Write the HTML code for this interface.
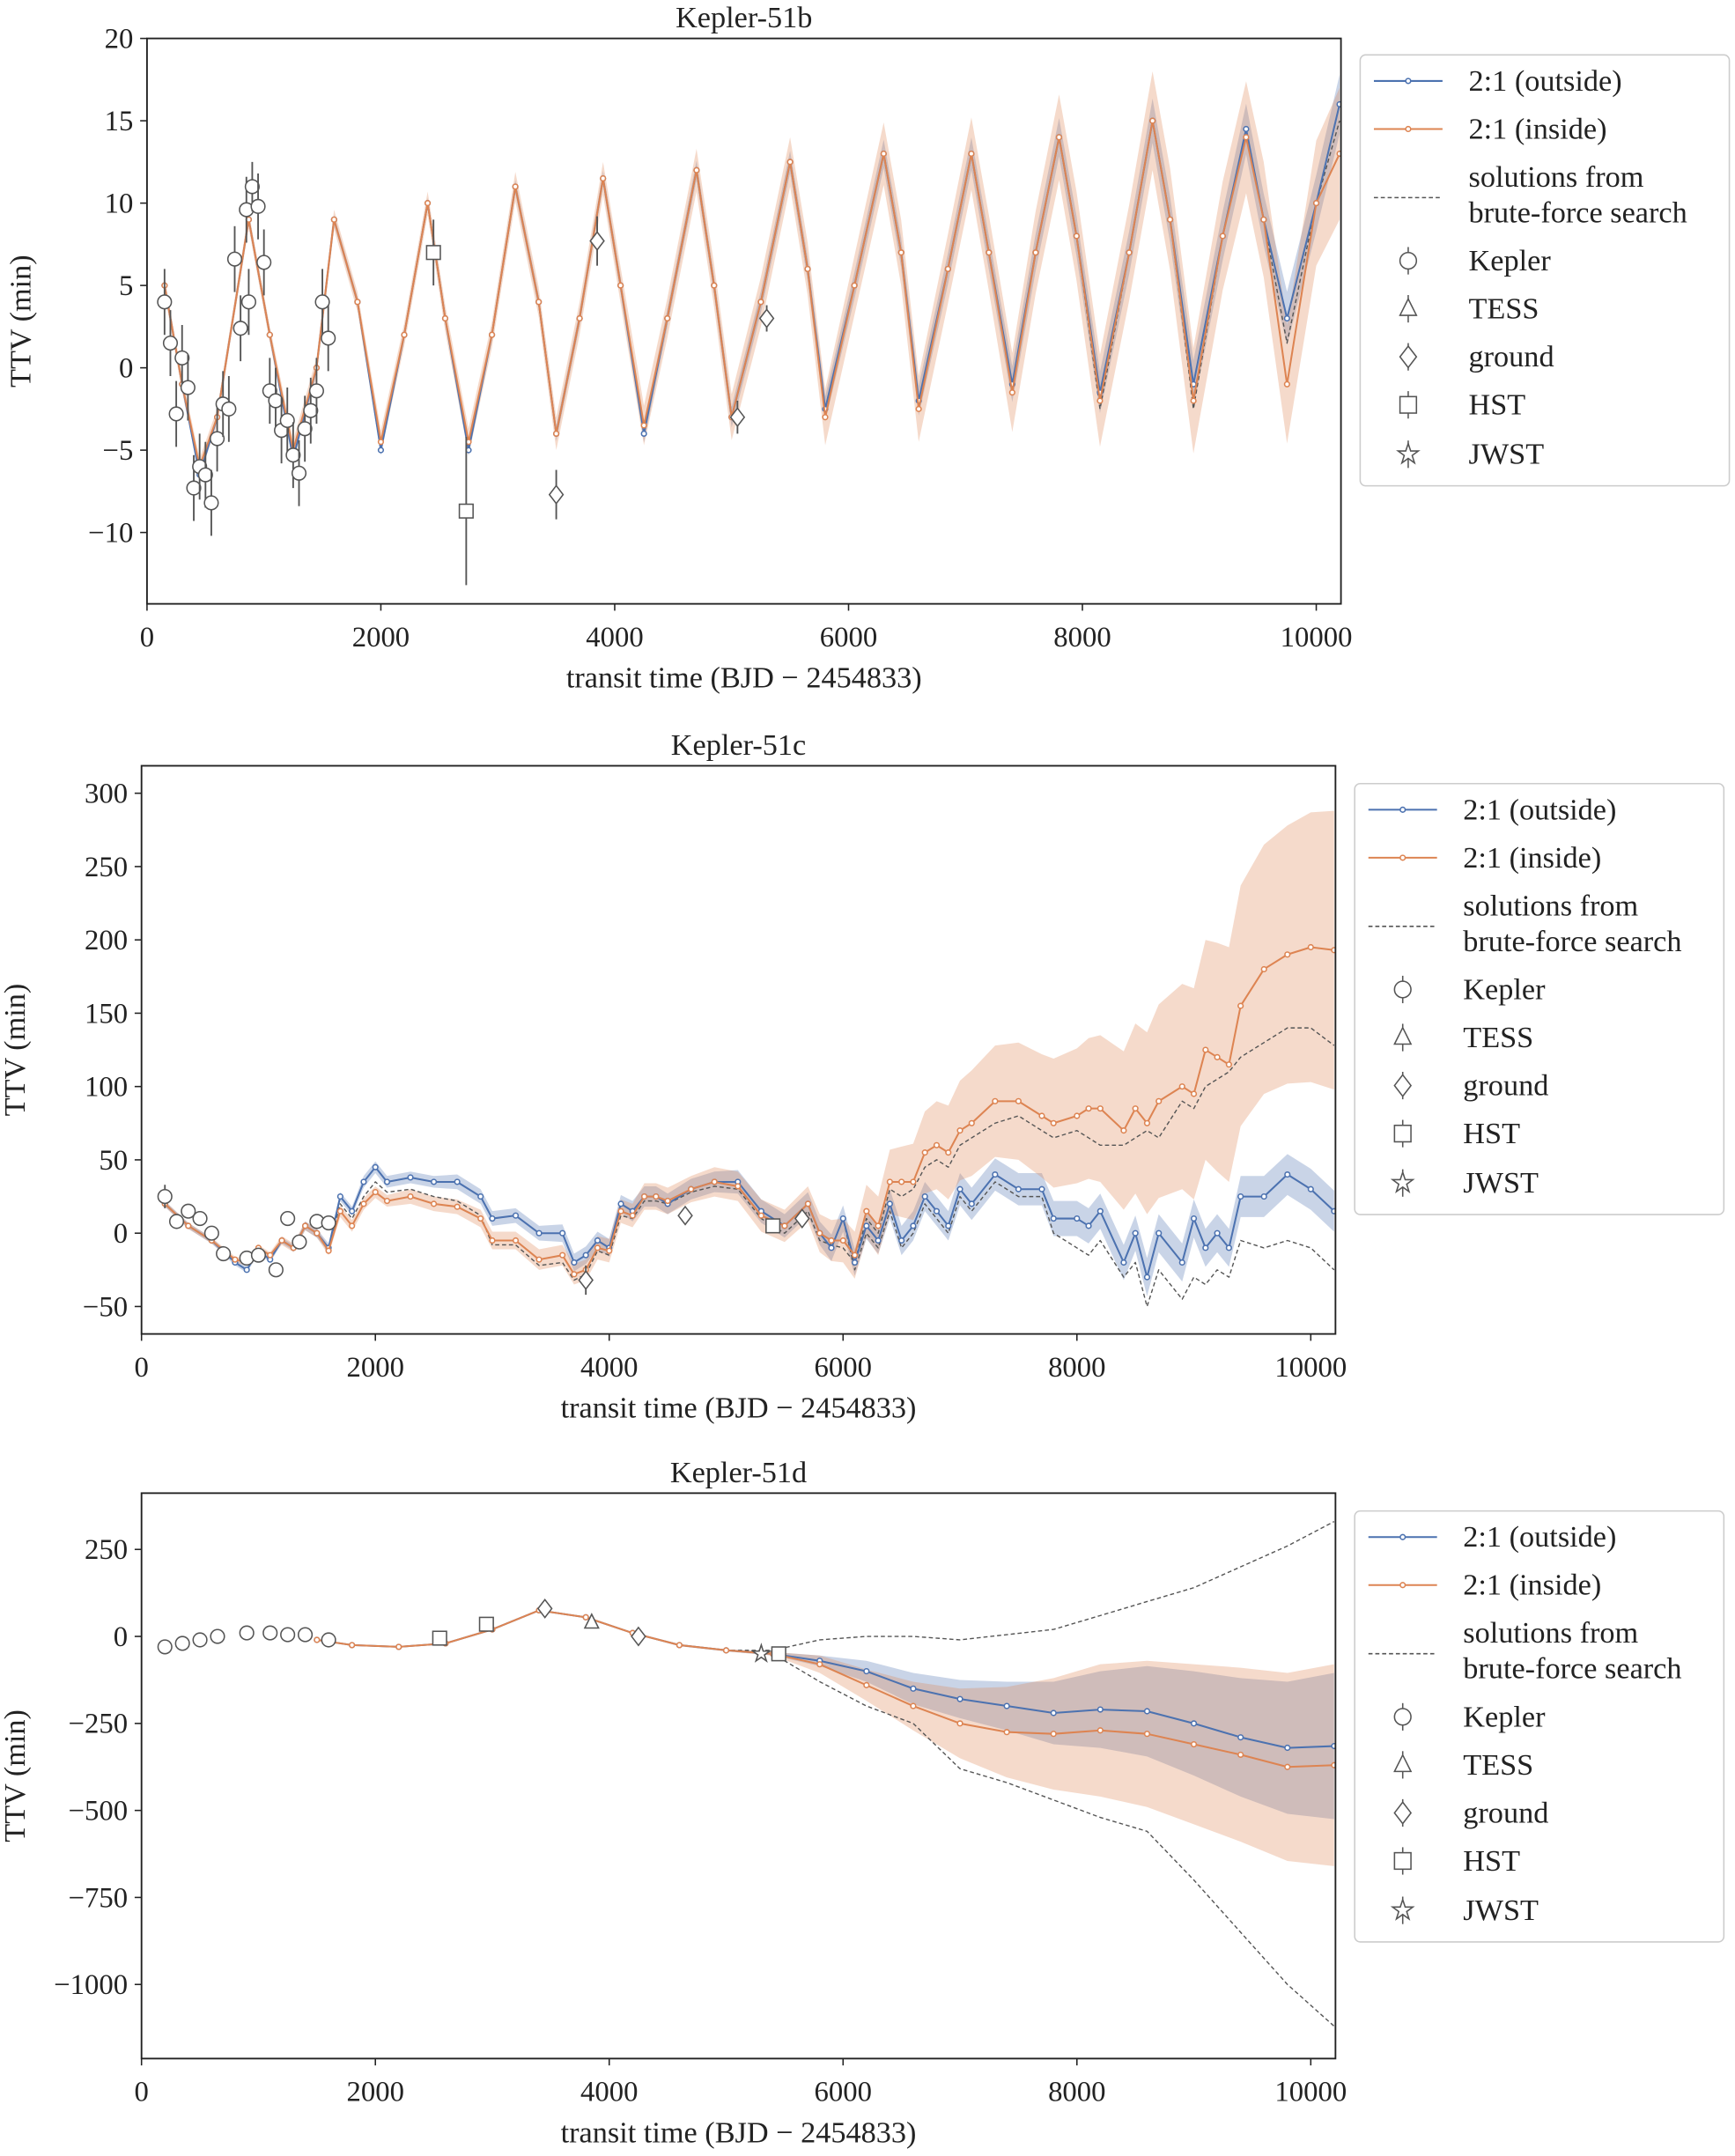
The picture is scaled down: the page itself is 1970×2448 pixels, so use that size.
<!DOCTYPE html>
<html><head><meta charset="utf-8"><style>
html,body{margin:0;padding:0;background:#fff}
svg{display:block;font-family:"Liberation Serif","DejaVu Serif",serif}
</style></head><body>
<svg id="fig" width="1970" height="2448" viewBox="0 0 1264 1571" xmlns="http://www.w3.org/2000/svg"></svg>
<script>
// ---------- Kepler-51b ----------
const bT=[150,300,450,600,870,1050,1250,1450,1600,1800,2000,2200,2400,2550,2750,2950,3150,3350,3500,3700,3900,4050,4250,4450,4700,4850,5000,5250,5500,5650,5800,6050,6300,6450,6600,6850,7050,7200,7400,7600,7800,7950,8150,8400,8600,8750,8950,9200,9400,9550,9750,10000,10200];
const bBlue=[5,-1,-6.5,-3,9,2,-5.5,0,9,4,-5,2,10,3,-5,2,11,4,-4,3,11.5,5,-4,3,12,5,-3,4,12.5,6,-2.5,5,13,7,-2,6,13,7,-1,7,14,8,-1.5,7,15,9,-1,8,14.5,9,3,10,16];
const bOrange=[5,-1,-6,-3,9,2,-5,0,9,4,-4.5,2,10,3,-4.5,2,11,4,-4,3,11.5,5,-3.5,3,12,5,-3,4,12.5,6,-3,5,13,7,-2.5,6,13,7,-1.5,7,14,8,-2,7,15,9,-2,8,14,9,-1,10,13];
const bDash=[5,-1,-6.5,-3,9,2,-5.5,0,9,4,-5,2,10,3,-5,2,11,4,-4,3,11.5,5,-4,3,12,5,-3,4,12.5,6,-3,5,13,7,-2.5,6,13,7,-1.5,7,14,8,-2.5,7,15,9,-2.5,8,14.5,9,1.5,10,15];
const bBandO=[0.5,0.5,0.5,0.5,0.5,0.5,0.6,0.6,0.6,0.6,0.7,0.7,0.7,0.8,0.8,0.8,0.9,0.9,1,1,1,1.1,1.2,1.2,1.3,1.3,1.4,1.5,1.5,1.6,1.7,1.8,1.9,2,2,2.1,2.2,2.3,2.4,2.5,2.6,2.7,2.8,2.9,3,3.1,3.2,3.3,3.4,3.5,3.6,3.8,4];
const bBandB=bBandO.map(v=>v*0.45);
const bObsT=[150,200,250,300,350,400,450,500,550,600,650,700,750,800,850,870,900,950,1000,1050,1100,1150,1200,1250,1300,1350,1400,1450,1500,1550];
const bObsY=[4,1.5,-2.8,0.6,-1.2,-7.3,-6,-6.5,-8.2,-4.3,-2.2,-2.5,6.6,2.4,9.6,4,11,9.8,6.4,-1.4,-2,-3.8,-3.2,-5.3,-6.4,-3.7,-2.6,-1.4,4,1.8];
const bObsE=[2,2,2,2,2,2,2,2,2,2,2,2,2,2,2,2,1.5,2,2,2,2,2,2,2,2,2,2,2,2,2];
const bHstT=[2450,2730], bHstY=[7,-8.7], bHstE=[2,4.5];
const bGrdT=[3500,3850,5050,5300], bGrdY=[-7.7,7.7,-3,3], bGrdE=[1.5,1.5,1,0.8];

// ---------- Kepler-51c ----------
const cT=[200,400,600,800,900,1000,1100,1200,1300,1400,1500,1600,1700,1800,1900,2000,2100,2300,2500,2700,2900,3000,3200,3400,3600,3700,3800,3900,4000,4100,4200,4300,4400,4500,4700,4900,5100,5300,5500,5700,5800,5900,6000,6100,6200,6300,6400,6500,6600,6700,6800,6900,7000,7100,7300,7500,7700,7800,8000,8100,8200,8400,8500,8600,8700,8900,9000,9100,9200,9300,9400,9600,9800,10000,10200];
const cBlue=[20,5,-5,-20,-25,-12,-18,-5,-10,5,0,-10,25,15,35,45,35,38,35,35,25,10,12,0,0,-20,-15,-5,-10,20,15,25,25,20,30,35,35,15,5,20,0,-10,10,-20,5,-5,20,-5,5,25,15,5,30,20,40,30,30,10,10,5,15,-20,0,-30,0,-20,10,-10,0,-10,25,25,40,30,15];
const cOrange=[20,5,-5,-18,-20,-10,-15,-5,-10,5,0,-12,15,5,20,28,22,25,20,18,10,-5,-5,-18,-15,-28,-25,-10,-12,15,12,25,25,22,30,35,32,12,5,20,0,-5,-5,-15,15,5,35,35,35,55,60,55,70,75,90,90,80,75,80,85,85,70,85,75,90,100,95,125,120,115,155,180,190,195,193];
const cDashHi=[20,5,-5,-20,-25,-12,-18,-5,-10,5,0,-10,20,10,25,35,28,30,25,22,12,-8,-8,-22,-20,-32,-28,-12,-15,12,10,22,22,20,28,32,30,10,0,15,-5,-8,-10,-20,10,0,30,25,30,45,50,45,60,65,75,80,70,65,70,65,60,60,65,70,65,90,85,100,105,110,120,130,140,140,128];
const cDashLo=[20,5,-5,-20,-25,-12,-18,-5,-10,5,0,-10,25,15,35,45,35,38,35,35,25,10,12,0,0,-20,-15,-5,-10,20,15,25,25,20,30,35,35,15,5,20,0,-10,10,-25,0,-10,15,-10,0,20,10,0,25,15,35,25,25,0,-10,-15,-5,-30,-20,-50,-25,-45,-30,-35,-25,-30,-5,-10,-5,-10,-25];
const cBandO=[2,2,2,2,2,2,2,3,3,3,3,3,4,4,4,4,4,5,5,5,6,6,6,7,7,7,7,8,8,8,8,9,9,9,9,10,10,11,11,12,13,14,15,16,18,20,22,24,26,28,30,32,34,36,38,40,42,44,46,48,50,54,58,62,66,70,72,75,78,80,82,85,88,92,95];
const cBandB=[2,2,2,2,2,2,2,2,2,3,3,3,3,3,4,4,4,4,4,5,5,5,5,5,6,6,6,6,6,6,7,7,7,7,7,7,8,8,8,8,8,9,9,9,9,9,10,10,10,10,10,10,11,11,11,11,11,12,12,12,12,12,12,13,13,13,13,13,13,13,14,14,14,14,14];
const cObsT=[200,300,400,500,600,700,900,1000,1150,1250,1350,1500,1600], cObsY=[25,8,15,10,0,-14,-17,-15,-25,10,-6,8,7], cObsE=[8,5,4,4,4,4,4,4,4,4,4,4,4];
const cGrdT=[4650,5650], cGrdY=[12,10], cGrdE=[4,4];
const cStarT=[3800], cStarY=[-32], cStarE=[10];
const cHstT=[5400], cHstY=[5], cHstE=[3];

// ---------- Kepler-51d ----------
const dT=[1500,1800,2200,2600,3000,3400,3800,4200,4600,5000,5400,5800,6200,6600,7000,7400,7800,8200,8600,9000,9400,9800,10200];
const dBlue=[-10,-25,-30,-20,20,75,55,10,-25,-40,-50,-70,-100,-150,-180,-200,-220,-210,-215,-250,-290,-320,-315];
const dOrange=[-10,-25,-30,-20,20,75,55,10,-25,-40,-50,-80,-140,-200,-250,-275,-280,-270,-280,-310,-340,-375,-370];
const dDashHi=[-10,-25,-30,-20,20,75,55,10,-25,-40,-40,-10,0,0,-10,5,20,60,100,140,200,260,330];
const dDashLo=[-10,-25,-30,-20,20,75,55,10,-25,-40,-50,-130,-200,-250,-380,-420,-470,-520,-560,-700,-850,-1000,-1120];
const dBandB=[2,2,2,2,2,2,2,2,3,3,5,15,30,45,55,70,90,110,130,150,170,190,210];
const dBandO=[2,2,2,2,2,2,2,2,3,3,5,25,45,70,100,130,160,190,210,230,250,270,290];
const dObsT=[200,350,500,650,900,1100,1250,1400,1600], dObsY=[-30,-20,-10,0,10,10,5,5,-10], dObsE=[5,5,5,5,5,5,5,5,5];
const dHstT=[2550,2950,5450], dHstY=[-5,35,-50], dHstE=[5,5,5];
const dGrdT=[3450,4250], dGrdY=[80,0], dGrdE=[5,5];
const dTriT=[3850], dTriY=[40], dTriE=[5];
const dStarT=[5300], dStarY=[-50], dStarE=[5];

const NS="http://www.w3.org/2000/svg";
const svg=document.getElementById('fig');
const BLUE="#4c72b0", ORANGE="#dd8452";
function el(tag,attrs,parent){const e=document.createElementNS(NS,tag);for(const k in attrs)e.setAttribute(k,attrs[k]);(parent||svg).appendChild(e);return e;}
function txt(s,x,y,size,anchor,parent,extra){const t=el('text',Object.assign({x:x,y:y,'font-size':size,'text-anchor':anchor||'middle',fill:'#222'},extra||{}),parent);t.textContent=s;return t;}

function marker(kind,x,y,r,g,fill,stroke){
  let m;
  if(kind==='o') m=el('circle',{cx:x,cy:y,r:r,fill:fill,stroke:stroke,'stroke-width':1},g);
  else if(kind==='s') m=el('rect',{x:x-r,y:y-r,width:2*r,height:2*r,fill:fill,stroke:stroke,'stroke-width':1},g);
  else if(kind==='d') m=el('polygon',{points:`${x},${y-r*1.3} ${x+r},${y} ${x},${y+r*1.3} ${x-r},${y}`,fill:fill,stroke:stroke,'stroke-width':1},g);
  else if(kind==='^') m=el('polygon',{points:`${x},${y-r*1.2} ${x+r},${y+r*0.8} ${x-r},${y+r*0.8}`,fill:fill,stroke:stroke,'stroke-width':1},g);
  else {let p=[];for(let i=0;i<10;i++){const a=-Math.PI/2+i*Math.PI/5;const rr=i%2?r*0.5:r*1.3;p.push((x+rr*Math.cos(a)).toFixed(1)+','+(y+rr*Math.sin(a)).toFixed(1));}
    m=el('polygon',{points:p.join(' '),fill:fill,stroke:stroke,'stroke-width':1},g);}
  return m;
}

function panel(cfg){
  const g=el('g',{});
  
  
  const X0=cfg.x0,X1=cfg.x1,Y0=cfg.y0,Y1=cfg.y1;
  const sx=v=>cfg.px0+(v-0)*(cfg.px10k-cfg.px0)/10000;
  const sy=v=>cfg.pyA+(v-cfg.vA)*(cfg.pyB-cfg.pyA)/(cfg.vB-cfg.vA);
  const clip='clip-'+cfg.name;
  const cp=el('clipPath',{id:clip},g);el('rect',{x:X0,y:Y0,width:X1-X0,height:Y1-Y0},cp);
  const plot=el('g',{'clip-path':`url(#${clip})`},g);
  function band(T,Y,W,color,nm){
    let d='M'+T.map((t,i)=>sx(t).toFixed(1)+','+sy(Y[i]+W[i]).toFixed(1)).join(' L');
    for(let i=T.length-1;i>=0;i--) d+=' L'+sx(T[i]).toFixed(1)+','+sy(Y[i]-W[i]).toFixed(1);
    const p=el('path',{d:d+'Z',fill:color,'fill-opacity':0.3,stroke:'none'},plot);
    
    
  }
  function line(T,Y,color,nm,dash,mk){
    const p=el('polyline',{points:T.map((t,i)=>sx(t).toFixed(1)+','+sy(Y[i]).toFixed(1)).join(' '),fill:'none',stroke:color,'stroke-width':dash?0.9:1.3,'stroke-linejoin':'round','stroke-dasharray':dash?'3,2':'none'},plot);
    
    
    if(mk) T.forEach((t,i)=>{const c=el('circle',{cx:sx(t),cy:sy(Y[i]),r:1.8,fill:'#fff',stroke:color,'stroke-width':1},plot);
      
      });
  }
  band(cfg.T,cfg.blue,cfg.bandB,BLUE,'blue-uncertainty-band');
  band(cfg.T,cfg.orange,cfg.bandO,ORANGE,'orange-uncertainty-band');
  cfg.dashes.forEach((D,i)=>line(cfg.T,D,'#555','brute-force-solution-'+i,true,false));
  line(cfg.T,cfg.blue,BLUE,'outside-2to1-series',false,true);
  line(cfg.T,cfg.orange,ORANGE,'inside-2to1-series',false,true);
  cfg.obs.forEach(o=>{
    o.T.forEach((t,i)=>{
      const x=sx(t),y=sy(o.Y[i]);
      const e=el('line',{x1:x,x2:x,y1:sy(o.Y[i]+o.E[i]),y2:sy(o.Y[i]-o.E[i]),stroke:'#555','stroke-width':1.2},plot);
      
      
      const m=marker(o.k,x,y,5,plot,'#fff','#555');
      
      
    });
  });
  el('rect',{x:X0,y:Y0,width:X1-X0,height:Y1-Y0,fill:'none',stroke:'#222','stroke-width':1.2},g);
  [0,2000,4000,6000,8000,10000].forEach(v=>{const x=sx(v);el('line',{x1:x,x2:x,y1:Y1,y2:Y1+5,stroke:'#222'},g);
    const t=txt(String(v),x,Y1+31,21,'middle',g);});
  cfg.yt.forEach(v=>{const y=sy(v);el('line',{x1:X0-5,x2:X0,y1:y,y2:y,stroke:'#222'},g);
    const t=txt(v<0?'\u2212'+(-v):String(v),X0-10,y+7,21,'end',g);});
  let t=txt('transit time (BJD \u2212 2454833)',(X0+X1)/2,Y1+61,22,'middle',g);
  t=txt('TTV (min)',0,0,22,'middle',g,{transform:`translate(${cfg.ylx},${(Y0+Y1)/2}) rotate(-90)`});
  t=txt(cfg.title,(X0+X1)/2,Y0-8,22,'middle',g);
  const L=el('g',{},g);
  const lx=cfg.lx,ly=cfg.ly;
  el('rect',{x:lx,y:ly,width:269,height:314,rx:4,fill:'#fff',stroke:'#ccc','stroke-width':1},L);
  const ent=[['l',BLUE,'2:1 (outside)',19],['l',ORANGE,'2:1 (inside)',54],['dash','#555','',104],['o','','Kepler',150],['^','','TESS',185],['d','','ground',220],['s','','HST',255],['*','','JWST',291]];
  ent.forEach(e=>{
    const eg=el('g',{},L);
    const y=ly+e[3];
    if(e[0]==='l'){el('line',{x1:lx+10,x2:lx+60,y1:y,y2:y,stroke:e[1],'stroke-width':1.3},eg);el('circle',{cx:lx+35,cy:y,r:1.8,fill:'#fff',stroke:e[1]},eg);txt(e[2],lx+79,y+7,22,'start',eg);}
    else if(e[0]==='dash'){el('line',{x1:lx+10,x2:lx+60,y1:y,y2:y,stroke:'#555','stroke-dasharray':'3,2'},eg);txt('solutions from',lx+79,y-8,22,'start',eg);txt('brute-force search',lx+79,y+18,22,'start',eg);}
    else {el('line',{x1:lx+35,x2:lx+35,y1:y-10,y2:y+10,stroke:'#555'},eg);marker(e[0],lx+35,y,6,eg,'#fff','#555');txt(e[2],lx+79,y+7,22,'start',eg);}
  });
}

panel({name:'kepler-51b-panel',title:'Kepler-51b',x0:107,x1:977,y0:28,y1:440,px0:107,px10k:959,pyA:28,vA:20,pyB:388,vB:-10,yt:[20,15,10,5,0,-5,-10],ylx:22,lx:991,ly:40,
  T:bT,blue:bBlue,orange:bOrange,dashes:[bDash],bandB:bBandB,bandO:bBandO,
  obs:[{T:bObsT,Y:bObsY,E:bObsE,k:'o',nm:'kepler-observation'},{T:bHstT,Y:bHstY,E:bHstE,k:'s',nm:'hst-observation'},{T:bGrdT,Y:bGrdY,E:bGrdE,k:'d',nm:'ground-observation'}]});
panel({name:'kepler-51c-panel',title:'Kepler-51c',x0:103,x1:973,y0:558,y1:972,px0:103,px10k:955,pyA:578,vA:300,pyB:952,vB:-50,yt:[300,250,200,150,100,50,0,-50],ylx:18,lx:987,ly:571,
  T:cT,blue:cBlue,orange:cOrange,dashes:[cDashHi,cDashLo],bandB:cBandB,bandO:cBandO,
  obs:[{T:cObsT,Y:cObsY,E:cObsE,k:'o',nm:'kepler-observation'},{T:cGrdT,Y:cGrdY,E:cGrdE,k:'d',nm:'ground-observation'},{T:cHstT,Y:cHstY,E:cHstE,k:'s',nm:'hst-observation'},{T:cStarT,Y:cStarY,E:cStarE,k:'d',nm:'ground-observation'}]});
panel({name:'kepler-51d-panel',title:'Kepler-51d',x0:103,x1:973,y0:1088,y1:1500,px0:103,px10k:955,pyA:1129,vA:250,pyB:1446,vB:-1000,yt:[250,0,-250,-500,-750,-1000],ylx:18,lx:987,ly:1101,
  T:dT,blue:dBlue,orange:dOrange,dashes:[dDashHi,dDashLo],bandB:dBandB,bandO:dBandO,
  obs:[{T:dObsT,Y:dObsY,E:dObsE,k:'o',nm:'kepler-observation'},{T:dHstT,Y:dHstY,E:dHstE,k:'s',nm:'hst-observation'},{T:dGrdT,Y:dGrdY,E:dGrdE,k:'d',nm:'ground-observation'},{T:dTriT,Y:dTriY,E:dTriE,k:'^',nm:'tess-observation'},{T:dStarT,Y:dStarY,E:dStarE,k:'*',nm:'jwst-observation'}]});
</script>
</body></html>
